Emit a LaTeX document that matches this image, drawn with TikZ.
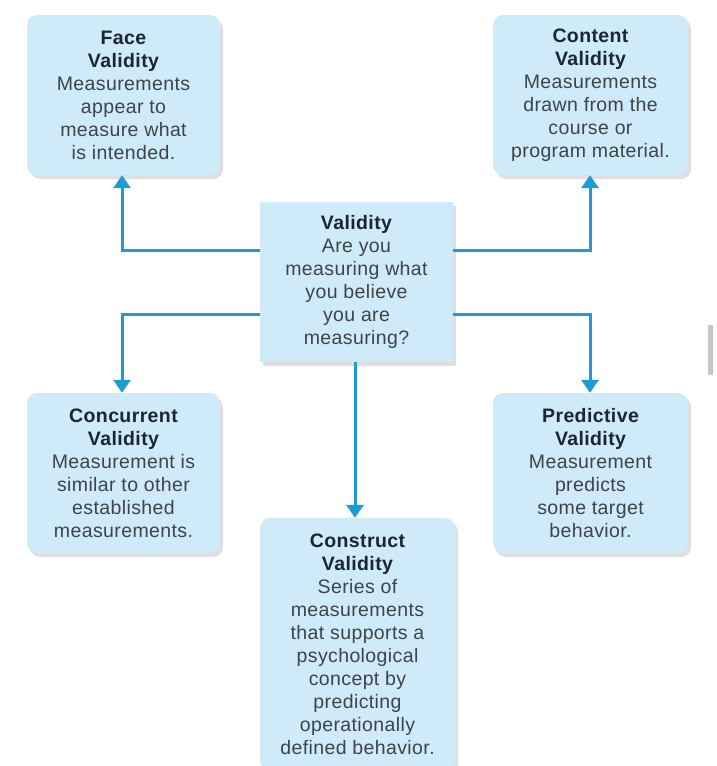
\documentclass[tikz,border=0pt]{standalone}
\usepackage{fontspec}
\setmainfont[LetterSpace=2]{Liberation Sans}
\usetikzlibrary{arrows.meta,shadows}
\definecolor{boxfill}{HTML}{CFEAF8}
\definecolor{arrowc}{HTML}{1E9AD6}
\definecolor{titlec}{HTML}{1C2630}
\definecolor{bodyc}{HTML}{3E4448}
\tikzset{
  vbox/.style={fill=boxfill, draw=none, align=center, inner sep=0pt,
    font=\fontsize{19.5}{23}\selectfont, text=bodyc,
    drop shadow={opacity=0.25, shadow xshift=3pt, shadow yshift=-4pt}},
  rbox/.style={vbox, rounded corners=10pt},
  conn/.style={draw=arrowc, line width=3pt, -{Triangle[width=17pt,length=13pt]}},
}
\newcommand{\ttl}[1]{{\bfseries\color{titlec}#1}}
\begin{document}
\begin{tikzpicture}[x=1pt,y=-1pt]
\useasboundingbox (0,0) rectangle (717,766);
\clip (0,0) rectangle (717,766);
\fill[white] (0,0) rectangle (717,766);
\node[rbox, minimum width=193pt, minimum height=160pt] (face) at (123.5,95)
  {\ttl{Face}\\\ttl{Validity}\\Measurements\\appear to\\measure what\\is intended.};
\node[rbox, minimum width=195pt, minimum height=160pt] (content) at (590.5,95)
  {\ttl{Content}\\\ttl{Validity}\\Measurements\\drawn from the\\course or\\program material.};
\node[vbox, minimum width=193pt, minimum height=160pt] (valid) at (356.5,282)
  {\ttl{Validity}\\Are you\\measuring what\\you believe\\you are\\measuring?};
\node[rbox, minimum width=193pt, minimum height=160pt] (conc) at (123.5,473)
  {\ttl{Concurrent}\\\ttl{Validity}\\Measurement is\\similar to other\\established\\measurements.};
\node[rbox, minimum width=195pt, minimum height=160pt] (pred) at (590.5,473)
  {\ttl{Predictive}\\\ttl{Validity}\\Measurement\\predicts\\some target\\behavior.};
\node[rbox, minimum width=195pt, minimum height=252pt] (cons) at (357.5,644)
  {\ttl{Construct}\\\ttl{Validity}\\Series of\\measurements\\that supports a\\psychological\\concept by\\predicting\\operationally\\defined behavior.};
\draw[conn] ([yshift=32pt]valid.west) -| ([xshift=-1.5pt]face.south);
\draw[conn] ([yshift=32pt]valid.east) -| ([xshift=-0.5pt]content.south);
\draw[conn] ([yshift=-32pt]valid.west) -| ([xshift=-1.5pt]conc.north);
\draw[conn] ([yshift=-32pt]valid.east) -| ([xshift=-0.5pt]pred.north);
\draw[conn] ([xshift=-1.5pt]valid.south) -- ([xshift=-1.5pt]valid.south |- cons.north);
\fill[gray!45, rounded corners=1pt] (708,325) rectangle (713,375);
\end{tikzpicture}
\end{document}
